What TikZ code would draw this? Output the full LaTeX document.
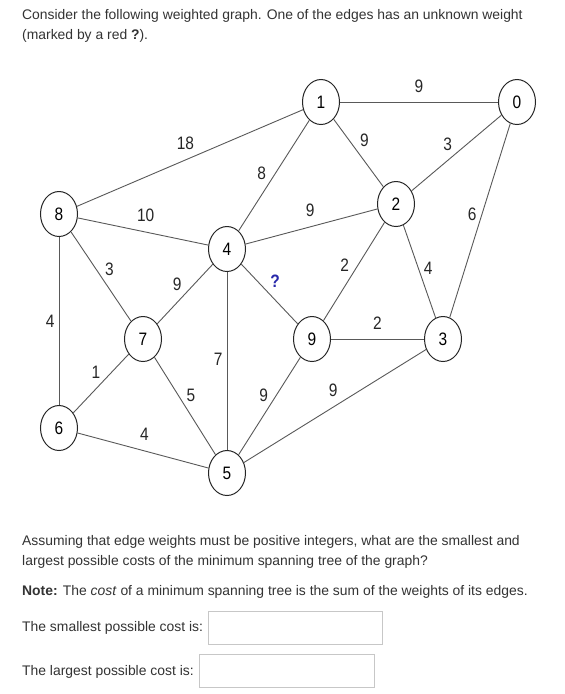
\documentclass[tikz,border=0pt]{standalone}
\usepackage{fontspec}
\setmainfont{Liberation Sans}
\newfontfamily\graphfont[FakeStretch=0.86]{Liberation Sans}
\usepackage{xcolor}
\usepackage{tikz}
\usetikzlibrary{positioning,shapes.geometric}
\definecolor{qblue}{RGB}{40,40,170}
\definecolor{txtgray}{RGB}{51,51,51}

\begin{document}
\begin{tikzpicture}[
  x=1pt, y=-1pt,
  font=\fontsize{13.9}{20}\selectfont,
  vertex/.style={draw=black!85, ellipse, line width=1pt, minimum width=37pt, minimum height=45pt, inner sep=0pt, fill=white, font=\graphfont\fontsize{18}{18}\selectfont},
  edge/.style={draw=black!65, line width=0.9pt},
  weight/.style={inner sep=1pt, font=\graphfont\fontsize{18}{18}\selectfont, text=black!85},
  prose/.style={anchor=base west, inner sep=0pt, text=txtgray},
  answer/.style={draw=black!22, line width=1pt, anchor=north west, minimum width=174pt, minimum height=33pt, inner sep=0pt}
]
\useasboundingbox[fill=white] (0,0) rectangle (565,694);

\node[prose] (q1) at (22,19.5) {Consider the following weighted graph. One of the edges has an unknown weight};
\node[prose] (q2) at (22,39.5) {(marked by a red \textbf{?}).};

\node[vertex] (v1) at (321,102) {1};
\node[vertex] (v0) at (517,102) {0};
\node[vertex] (v2) at (396,204) {2};
\node[vertex] (v8) at (59,214) {8};
\node[vertex] (v4) at (227,249) {4};
\node[vertex] (v7) at (143,339) {7};
\node[vertex] (v9) at (312,339) {9};
\node[vertex] (v3) at (443,339) {3};
\node[vertex] (v6) at (59,428) {6};
\node[vertex] (v5) at (227,473) {5};

\draw[edge] (v1) -- node[weight, above=8pt]{9} (v0);
\draw[edge] (v8) -- node[weight, pos=.48, above=9pt]{18} (v1);
\draw[edge] (v4) -- node[weight, pos=.52, left=8pt]{8} (v1);
\draw[edge] (v1) -- node[weight, pos=.46, above right=3pt]{9} (v2);
\draw[edge] (v2) -- node[weight, pos=.49, above left=3pt]{3} (v0);
\draw[edge] (v8) -- node[weight, pos=.52, above=9pt]{10} (v4);
\draw[edge] (v4) -- node[weight, pos=.49, above=9pt]{9} (v2);
\draw[edge] (v0) -- node[weight, pos=.47, left=4pt]{6} (v3);
\draw[edge] (v8) -- node[weight, pos=.52, above right=2pt]{3} (v7);
\draw[edge] (v4) -- node[weight, pos=.5, above left=3pt]{9} (v7);
\draw[edge] (v4) -- node[weight, pos=.45, above right=3pt, text=qblue]{\bfseries ?} (v9);
\draw[edge] (v2) -- node[weight, pos=.53, above left=2.5pt]{2} (v9);
\draw[edge] (v2) -- node[weight, pos=.47, right=4pt]{4} (v3);
\draw[edge] (v8) -- node[weight, left=3pt]{4} (v6);
\draw[edge] (v4) -- node[weight, pos=.49, left=3pt]{7} (v5);
\draw[edge] (v6) -- node[weight, pos=.54, above left=2pt]{1} (v7);
\draw[edge] (v7) -- node[weight, pos=.48, above right=2pt]{5} (v5);
\draw[edge] (v9) -- node[weight, pos=.48, above left=2pt]{9} (v5);
\draw[edge] (v6) -- node[weight, pos=.51, above=8.5pt]{4} (v5);
\draw[edge] (v9) -- node[weight, above=8.5pt]{2} (v3);
\draw[edge] (v3) -- node[weight, pos=.51, above=9pt]{9} (v5);

\node[prose] (a1) at (22,545.5) {Assuming that edge weights must be positive integers, what are the smallest and};
\node[prose] (a2) at (22,565.3) {largest possible costs of the minimum spanning tree of the graph?};
\node[prose] (note) at (22,595.3) {\textbf{Note:} The \textit{cost} of a minimum spanning tree is the sum of the weights of its edges.};
\node[prose] (small) at (22,631.3) {The smallest possible cost is:};
\node[prose] (large) at (22,675.3) {The largest possible cost is:};
\node[answer] (smallbox) at (208.3,610.7) {};
\node[answer, minimum width=174.4pt] (largebox) at (199.3,654.3) {};
\end{tikzpicture}
\end{document}
